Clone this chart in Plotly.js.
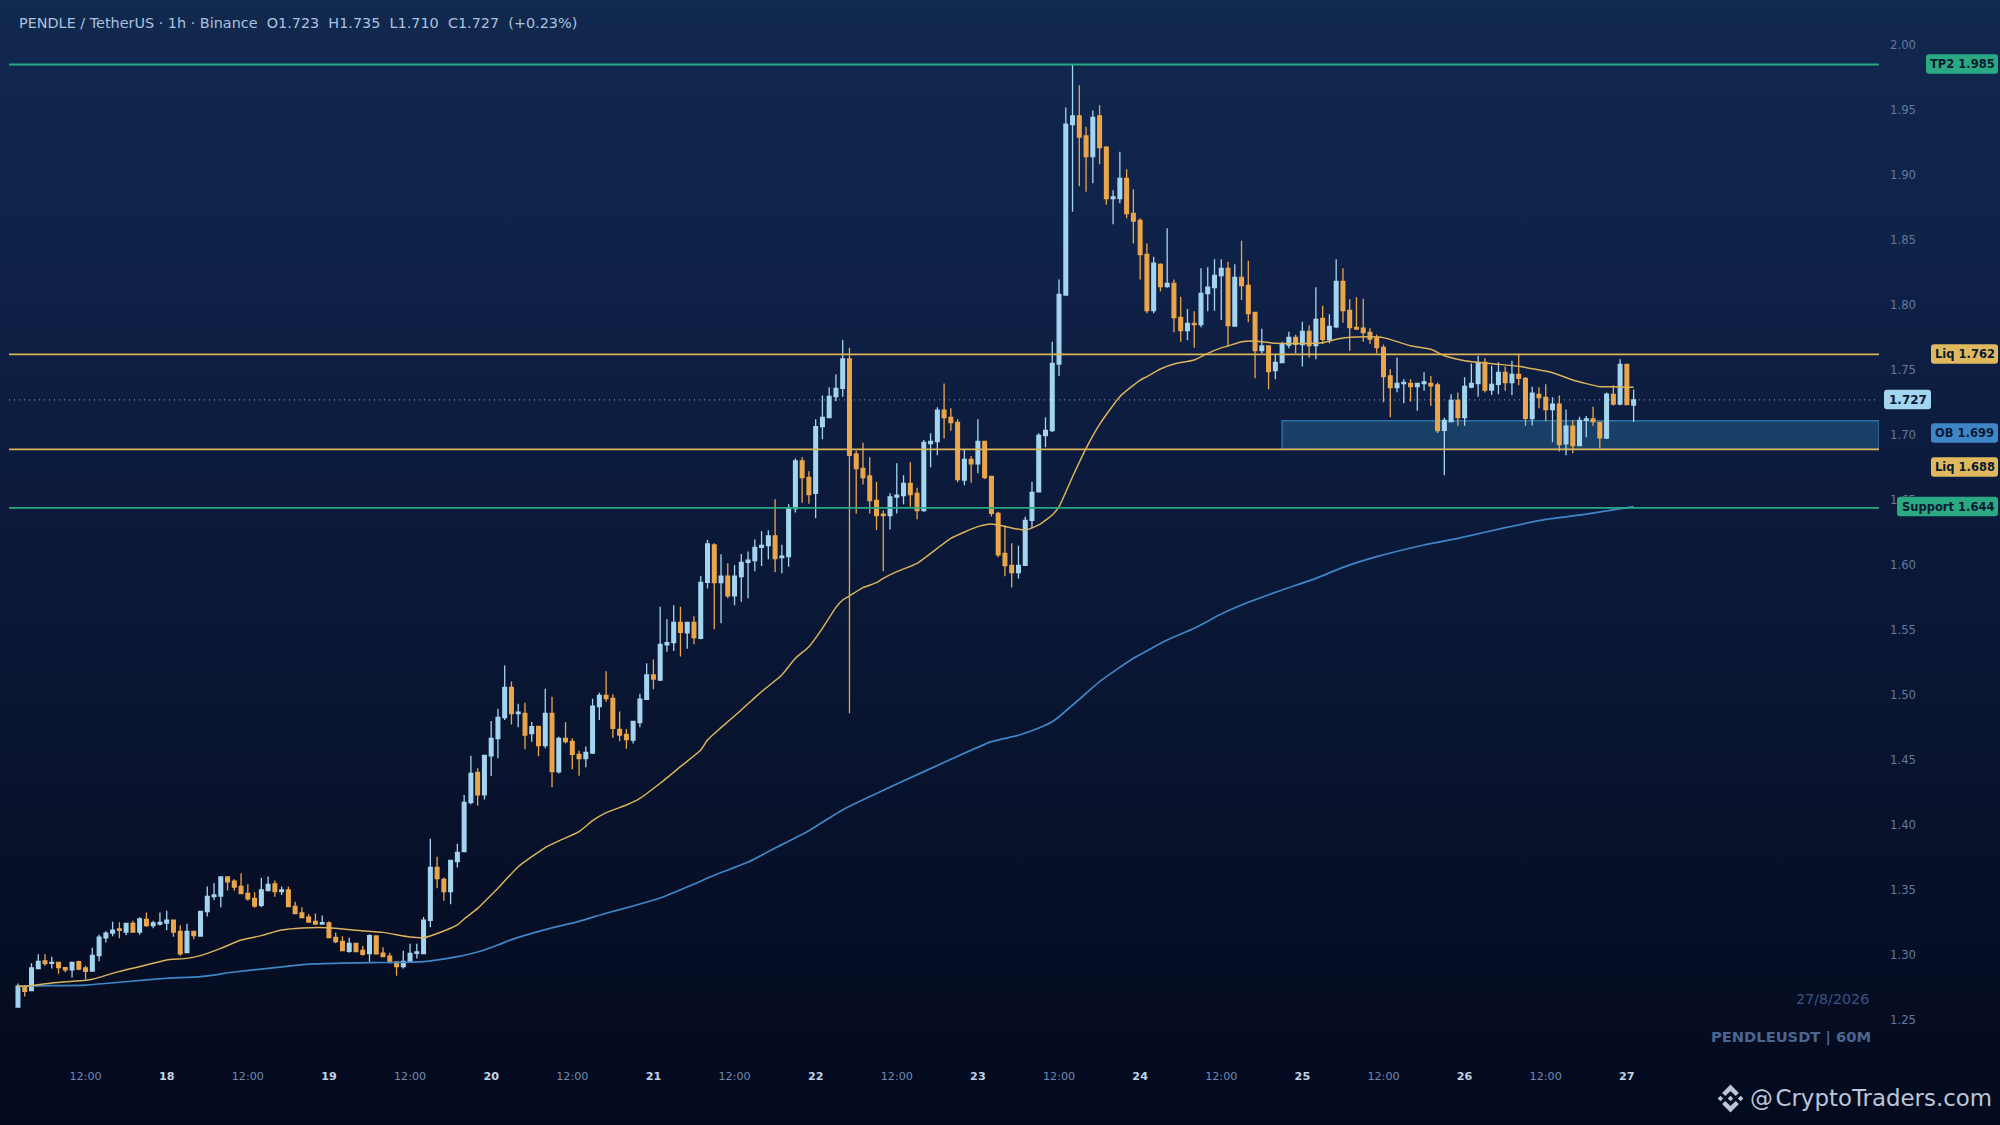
<!DOCTYPE html>
<html><head><meta charset="utf-8">
<script src="https://cdn.plot.ly/plotly-3.0.1.min.js"></script>
<style>html,body{margin:0;padding:0;width:2000px;height:1125px;overflow:hidden;background:linear-gradient(180deg,#11284f 0%,#0f2147 25%,#0a1735 55%,#071028 78%,#040a1e 100%);}
#c{width:2000px;height:1125px}</style></head><body><div id="c"></div>
<script>
const opens=[1.260,1.275,1.2726,1.2895,1.2954,1.2936,1.2944,1.2903,1.2885,1.2949,1.290,1.2877,1.2995,1.3131,1.3169,1.320,1.3177,1.3244,1.3177,1.3274,1.3226,1.3238,1.3246,1.3269,1.3182,1.3018,1.3182,1.3146,1.3333,1.3449,1.3454,1.36,1.3569,1.3528,1.3474,1.3436,1.3382,1.3495,1.3546,1.3487,1.35,1.3374,1.3323,1.3292,1.3259,1.3238,1.3246,1.3136,1.3105,1.3028,1.309,1.3036,1.301,1.3146,1.3015,1.2992,1.2946,1.291,1.2946,1.3013,1.301,1.3267,1.3674,1.3582,1.3487,1.3718,1.3795,1.4172,1.4405,1.4231,1.4531,1.4664,1.4826,1.5059,1.4856,1.4859,1.4703,1.4759,1.461,1.4859,1.4408,1.4667,1.4644,1.4544,1.451,1.4554,1.491,1.4997,1.4974,1.4736,1.4697,1.4654,1.4787,1.4967,1.5154,1.5115,1.5385,1.5403,1.5559,1.5479,1.5559,1.5436,1.5867,1.6154,1.5864,1.5915,1.5762,1.591,1.602,1.6033,1.6136,1.6149,1.6223,1.6056,1.6064,1.6433,1.68,1.6674,1.6551,1.7064,1.7133,1.7295,1.7359,1.7585,1.6854,1.6744,1.6685,1.6497,1.6392,1.638,1.6523,1.6533,1.6628,1.6551,1.6418,1.6933,1.6949,1.7192,1.7136,1.7097,1.6654,1.6813,1.6779,1.6951,1.6682,1.6397,1.609,1.5997,1.5941,1.5997,1.6344,1.6562,1.6995,1.7033,1.7546,1.8077,1.9387,1.9454,1.93,1.9141,1.9454,1.9215,1.8818,1.8818,1.8974,1.8705,1.8651,1.839,1.7956,1.8313,1.8141,1.8167,1.7905,1.7803,1.7859,1.7849,1.8087,1.8133,1.8226,1.8282,1.7838,1.8213,1.8151,1.7944,1.7649,1.7685,1.7495,1.7556,1.7692,1.7751,1.7695,1.7797,1.7687,1.7897,1.7736,1.7831,1.8182,1.7959,1.7828,1.7821,1.779,1.7746,1.7674,1.7454,1.7364,1.7395,1.7397,1.7372,1.7395,1.7397,1.7385,1.7036,1.7103,1.7267,1.7133,1.7369,1.7395,1.7559,1.7346,1.739,1.7482,1.7403,1.7467,1.7436,1.7126,1.7313,1.729,1.7195,1.7238,1.6931,1.7069,1.6918,1.7113,1.7123,1.7097,1.6977,1.7313,1.7238,1.7544,1.723];
const highs=[1.278,1.277,1.2936,1.3005,1.3005,1.2987,1.2944,1.2903,1.2944,1.2956,1.2918,1.3056,1.3156,1.3182,1.3256,1.3251,1.3244,1.3264,1.329,1.3326,1.3264,1.3326,1.3341,1.3269,1.3228,1.3241,1.3187,1.3336,1.3526,1.3551,1.36,1.36,1.3582,1.3628,1.3544,1.3482,1.3595,1.3603,1.3574,1.3526,1.3526,1.341,1.3367,1.3313,1.332,1.3303,1.3259,1.3174,1.3144,1.3133,1.309,1.3069,1.3159,1.3146,1.3059,1.3018,1.2946,1.3033,1.3087,1.3087,1.3292,1.3895,1.3756,1.3597,1.3733,1.3856,1.4231,1.4533,1.4436,1.4536,1.48,1.4895,1.5226,1.5103,1.4933,1.4941,1.4792,1.4759,1.5049,1.4987,1.4679,1.479,1.4667,1.4572,1.4603,1.4972,1.5018,1.5182,1.5005,1.4874,1.4738,1.4797,1.501,1.5244,1.5274,1.5679,1.5582,1.569,1.5679,1.5559,1.5605,1.5915,1.6192,1.6167,1.6082,1.6013,1.6,1.6085,1.6103,1.6197,1.6259,1.6267,1.6505,1.6156,1.6467,1.682,1.6828,1.6721,1.7121,1.7303,1.7367,1.7467,1.7731,1.7672,1.6879,1.6941,1.6828,1.6641,1.642,1.6551,1.6782,1.669,1.679,1.6595,1.6962,1.7013,1.7213,1.7397,1.7205,1.7121,1.6885,1.6838,1.7121,1.6951,1.6682,1.641,1.6303,1.6167,1.6149,1.6372,1.6641,1.7013,1.7136,1.7718,1.8197,1.952,1.9846,1.969,1.9372,1.9497,1.9536,1.9221,1.8882,1.9179,1.9044,1.889,1.8667,1.8474,1.8372,1.8321,1.859,1.8197,1.8064,1.7969,1.7951,1.8282,1.829,1.8351,1.8351,1.8333,1.8313,1.8495,1.8341,1.7944,1.7818,1.7685,1.7615,1.7718,1.7795,1.7772,1.7872,1.7844,1.8136,1.7995,1.7928,1.8351,1.8282,1.8044,1.8059,1.8049,1.7821,1.7774,1.7697,1.7505,1.7597,1.7428,1.7428,1.7397,1.7482,1.7454,1.7403,1.7133,1.7313,1.7326,1.7444,1.755,1.7609,1.759,1.7533,1.7559,1.7526,1.7572,1.7623,1.7446,1.7372,1.7367,1.739,1.729,1.7303,1.7197,1.7115,1.7141,1.7146,1.7218,1.7097,1.7326,1.7382,1.7582,1.7544,1.735];
const lows=[1.260,1.268,1.2726,1.2895,1.2918,1.2897,1.2856,1.2867,1.2826,1.2882,1.2813,1.2877,1.2951,1.3097,1.3144,1.3128,1.3151,1.3177,1.3156,1.3215,1.3205,1.3226,1.319,1.3141,1.2995,1.3018,1.3121,1.3146,1.3297,1.3423,1.3367,1.3497,1.3495,1.3472,1.3418,1.3364,1.3367,1.3495,1.3449,1.3462,1.3369,1.3313,1.3287,1.3249,1.3233,1.3238,1.3128,1.309,1.3028,1.3018,1.3026,1.2995,1.2949,1.3008,1.2987,1.2936,1.2841,1.2897,1.2946,1.2974,1.301,1.3213,1.3513,1.3418,1.339,1.3674,1.3795,1.4159,1.4149,1.4197,1.4377,1.4513,1.4808,1.4774,1.4751,1.4582,1.4641,1.4528,1.459,1.429,1.4397,1.4626,1.4428,1.4379,1.4444,1.4546,1.4808,1.4949,1.4672,1.4644,1.4587,1.4626,1.4751,1.4967,1.5044,1.5108,1.5333,1.5338,1.5297,1.5356,1.539,1.5428,1.582,1.5505,1.5551,1.5744,1.569,1.5718,1.5744,1.5951,1.5992,1.6044,1.5944,1.5936,1.5987,1.6403,1.6479,1.6472,1.6359,1.6967,1.7128,1.7259,1.7295,1.486,1.6397,1.662,1.6397,1.6269,1.5951,1.6274,1.6397,1.6467,1.6449,1.6351,1.641,1.6751,1.6844,1.6974,1.7033,1.6636,1.6613,1.6633,1.6705,1.6662,1.6374,1.6059,1.5913,1.5826,1.5897,1.5992,1.6282,1.6562,1.6905,1.7023,1.7454,1.8077,1.8718,1.8913,1.8872,1.8936,1.9082,1.8772,1.8621,1.8782,1.8667,1.8474,1.8197,1.7936,1.7936,1.8103,1.8133,1.779,1.7718,1.7728,1.7672,1.7828,1.7951,1.7956,1.7885,1.7685,1.7833,1.8038,1.7867,1.7436,1.7628,1.7351,1.7428,1.7556,1.7667,1.7628,1.7526,1.7597,1.7582,1.77,1.7705,1.7821,1.7864,1.7649,1.7815,1.7718,1.77,1.7628,1.7251,1.7136,1.7328,1.7244,1.7256,1.7187,1.7341,1.7223,1.7015,1.669,1.7103,1.7072,1.7072,1.7359,1.7295,1.7326,1.7308,1.7313,1.7341,1.7305,1.7382,1.7072,1.7074,1.7205,1.7105,1.6944,1.6874,1.6844,1.6859,1.6918,1.6983,1.7072,1.6897,1.6969,1.7226,1.7228,1.7228,1.71];
const closes=[1.276,1.272,1.290,1.295,1.2933,1.2944,1.2903,1.2885,1.2944,1.2892,1.2874,1.2997,1.3138,1.3169,1.3192,1.319,1.3244,1.3177,1.3277,1.3226,1.3246,1.3251,1.3269,1.3177,1.3008,1.3182,1.3149,1.3336,1.3451,1.3462,1.36,1.3562,1.3523,1.3472,1.3431,1.3377,1.35,1.3544,1.3487,1.35,1.3372,1.3318,1.3287,1.3254,1.3238,1.3249,1.3133,1.3103,1.3033,1.309,1.3026,1.3005,1.3149,1.3008,1.2987,1.2941,1.291,1.2951,1.3013,1.3023,1.3269,1.3674,1.3587,1.3487,1.3728,1.379,1.4174,1.4397,1.4231,1.4536,1.4667,1.4828,1.5059,1.4856,1.4869,1.4692,1.4756,1.461,1.4859,1.441,1.4667,1.4641,1.4544,1.451,1.4559,1.4915,1.4997,1.4972,1.4744,1.4692,1.4656,1.4797,1.4969,1.5154,1.5123,1.539,1.5403,1.5559,1.5482,1.5559,1.5441,1.5867,1.6162,1.5864,1.5915,1.5762,1.5915,1.602,1.6038,1.6136,1.6151,1.6223,1.6049,1.6069,1.6441,1.68,1.6672,1.6541,1.7064,1.7136,1.7297,1.7359,1.7585,1.6844,1.6741,1.6672,1.6495,1.638,1.638,1.6523,1.6538,1.6628,1.6541,1.6418,1.6944,1.6951,1.7192,1.7133,1.7095,1.6656,1.6813,1.6779,1.6951,1.6672,1.6397,1.6079,1.5995,1.5941,1.5997,1.6344,1.6559,1.6997,1.7036,1.7551,1.8082,1.9392,1.9454,1.9292,1.9141,1.9444,1.921,1.8818,1.8831,1.8974,1.8703,1.8646,1.8387,1.7956,1.8321,1.8141,1.8167,1.7903,1.7803,1.7859,1.7849,1.809,1.8138,1.8228,1.8282,1.7841,1.8213,1.8149,1.7933,1.7649,1.7685,1.7487,1.7559,1.7695,1.7751,1.7697,1.7797,1.7687,1.789,1.7736,1.7836,1.8182,1.7956,1.7826,1.7815,1.7787,1.7738,1.7672,1.7449,1.7364,1.7397,1.7405,1.7372,1.7397,1.7408,1.7379,1.7033,1.7113,1.7267,1.7133,1.7374,1.7397,1.7559,1.7346,1.739,1.7482,1.7403,1.7467,1.7436,1.7128,1.7321,1.7287,1.7195,1.7238,1.6926,1.7069,1.6918,1.7113,1.7123,1.7103,1.6979,1.7315,1.7238,1.7544,1.7233,1.727];
const goldIdx=[0,2,5,10,11,15,20,22,25,27,30,33,36,39,42,46,50,54,58,60,63,65,66,68,70,71,74,78,80,83,85,87,90,92,95,98,101,102,104,107,110,113,115,117,119,121,122,123,125,127,128,130,133,138,142,144,147,149,151,153,154,156,158,160,163,166,167,169,171,174,176,178,179,181,183,186,193,195,197,200,202,206,209,211,214,218,222,227,230,234,236,239];
const goldVal=[1.2760,1.2764,1.2785,1.2805,1.2813,1.2874,1.2936,1.2962,1.2974,1.2995,1.3051,1.3115,1.3149,1.3192,1.3208,1.3210,1.3190,1.3174,1.3138,1.3133,1.3185,1.3231,1.3277,1.3359,1.3462,1.3513,1.3679,1.3826,1.3877,1.3949,1.4033,1.4095,1.4154,1.4205,1.4321,1.4449,1.4577,1.4654,1.4749,1.4885,1.5026,1.5154,1.5282,1.5372,1.5513,1.5674,1.5731,1.5762,1.5826,1.5864,1.5897,1.5949,1.6013,1.6205,1.6295,1.6315,1.6285,1.6269,1.6308,1.6385,1.6449,1.6679,1.6897,1.7082,1.7295,1.7423,1.7449,1.7508,1.7546,1.7577,1.7628,1.7670,1.7685,1.7718,1.7723,1.7705,1.7710,1.7736,1.7751,1.7756,1.7749,1.7687,1.7659,1.7610,1.7572,1.7549,1.7528,1.7479,1.7423,1.7372,1.7372,1.7367];
const blueIdx=[0,2,10,17,22,27,32,37,40,44,52,57,60,65,68,71,73,78,83,87,91,95,100,103,108,113,117,122,125,130,138,144,148,151,153,154,157,160,165,170,174,178,182,187,192,196,201,208,213,220,226,232,239];
const blueVal=[1.2756,1.2762,1.2769,1.2800,1.2821,1.2833,1.2869,1.2897,1.2915,1.2931,1.2941,1.2944,1.2949,1.2987,1.3023,1.3077,1.3118,1.3195,1.3259,1.3321,1.3377,1.3438,1.3546,1.3613,1.3715,1.3849,1.3956,1.4118,1.4195,1.4315,1.4505,1.4641,1.4690,1.4746,1.4795,1.4833,1.4967,1.5103,1.5282,1.5423,1.5513,1.5623,1.5713,1.5808,1.5897,1.5982,1.6064,1.6154,1.6205,1.6287,1.6351,1.6392,1.6449];
const priceTicks=[1.25,1.30,1.35,1.40,1.45,1.50,1.55,1.60,1.65,1.70,1.75,1.80,1.85,1.90,1.95,2.00];
const dayLabels=["18","19","20","21","22","23","24","25","26","27"];
const levelTP2=1.985, levelLiqHigh=1.762, levelLiqLow=1.689, levelSupport=1.644, lastPrice=1.727;
const obTop=1.711, obBottom=1.689, obStartIndex=187;

const W=2000,H=1125;
const fx=p=>p/W, fy=p=>1-p/H;
const START=Date.UTC(2026,7,17,2), HOUR=3600000, D18=Date.UTC(2026,7,18);
const times=opens.map((_,i)=>START+i*HOUR);
const PXH=6.76, X18=166.7, PL=9, PR=1879;
const tAt=px=>D18+(px-X18)/PXH*HOUR;

const tickVals=[],tickText=[];
dayLabels.forEach((d,k)=>{
  const day=D18+k*24*HOUR;
  tickVals.push(day-12*HOUR);tickText.push('<span style="color:#6f8ab0">12:00</span>');
  tickVals.push(day);tickText.push('<span style="color:#c3d3e6;font-weight:bold"><b>'+d+'</b></span>');
});

const UP='#a3d5f0',DOWN='#eba54b',GOLD='#dcb35a',GREEN='#2aa983',BLUE='#3f86c8',DARK='#0b1a33';
const traces=[
 {type:'candlestick',x:times,open:opens,high:highs,low:lows,close:closes,whiskerwidth:0,
  increasing:{line:{color:UP,width:1.3},fillcolor:UP},decreasing:{line:{color:DOWN,width:1.3},fillcolor:DOWN},hoverinfo:'skip',showlegend:false},
 {type:'scatter',mode:'lines',x:blueIdx.map(i=>times[i]),y:blueVal,line:{color:BLUE,width:1.7,shape:'spline',smoothing:0.5},hoverinfo:'skip',showlegend:false},
 {type:'scatter',mode:'lines',x:goldIdx.map(i=>times[i]),y:goldVal,line:{color:GOLD,width:1.5,shape:'spline',smoothing:0.5},hoverinfo:'skip',showlegend:false}
];
const hline=(y,color,extra)=>({type:'line',xref:'x domain',yref:'y',x0:0,x1:1,y0:y,y1:y,layer:'above',line:Object.assign({color:color,width:1.8},extra||{})});
function rr(x0,y0,x1,y1,color){const r=3;const P=(x,y)=>fx(x)+','+fy(y);
 return {type:'path',xref:'paper',yref:'paper',layer:'above',fillcolor:color,line:{width:0},
  path:'M'+P(x0+r,y0)+' L'+P(x1-r,y0)+' Q'+P(x1,y0)+' '+P(x1,y0+r)+' L'+P(x1,y1-r)+' Q'+P(x1,y1)+' '+P(x1-r,y1)+' L'+P(x0+r,y1)+' Q'+P(x0,y1)+' '+P(x0,y1-r)+' L'+P(x0,y0+r)+' Q'+P(x0,y0)+' '+P(x0+r,y0)+' Z'};}
function logo(cx,cy,s,color){
 const polys=[[[0,-.2],[.2,0],[0,.2],[-.2,0]],[[-.72,-.2],[-.52,0],[-.72,.2],[-.92,0]],[[.72,-.2],[.92,0],[.72,.2],[.52,0]],
  [[0,-1],[.6,-.4],[.37,-.17],[0,-.54],[-.37,-.17],[-.6,-.4]],[[0,1],[.6,.4],[.37,.17],[0,.54],[-.37,.17],[-.6,.4]]];
 return {type:'path',xref:'paper',yref:'paper',layer:'above',fillcolor:color,line:{width:0},
  path:polys.map(p=>'M'+p.map(q=>fx(cx+q[0]*s)+','+fy(cy+q[1]*s)).join(' L')+' Z').join(' ')};
}
const labels=[
 {t:'TP2 1.985',x0:1926,x1:1998,cy:64,c:GREEN},
 {t:'Liq 1.762',x0:1931,x1:1998,cy:354,c:'#e0b95e'},
 {t:'OB 1.699',x0:1931,x1:1998,cy:433,c:BLUE},
 {t:'Liq 1.688',x0:1931,x1:1998,cy:467,c:'#e0b95e'},
 {t:'Support 1.644',x0:1897,x1:1998,cy:506.5,c:GREEN},
 {t:'1.727',x0:1884,x1:1931,cy:399.5,c:'#a3d5f0',fs:12}
];
const shapes=[
 {type:'rect',xref:'x',yref:'y',x0:times[obStartIndex],x1:tAt(PR),y0:obBottom,y1:obTop,layer:'below',fillcolor:'rgba(44,120,165,0.38)',line:{color:'#2f6fa3',width:1.5}},
 hline(levelTP2,GREEN),hline(levelLiqHigh,GOLD),hline(levelLiqLow,GOLD),hline(levelSupport,GREEN),
 hline(lastPrice,'rgba(170,215,240,0.75)',{width:1,dash:'1px,4px'}),
 logo(1730.5,1098.5,14,'#b9c7d9')
].concat(labels.map(l=>rr(l.x0,l.cy-9.7,l.x1,l.cy+9.7,l.c)));
const ann=(t,x,y,anchor,size,color,bold)=>({xref:'paper',yref:'paper',x:fx(x),y:fy(y),xanchor:anchor,yanchor:'middle',showarrow:false,align:anchor,
  text:bold?'<b>'+t+'</b>':t,font:{family:'DejaVu Sans',size:size,color:color},borderpad:0});
const annotations=[
 ann('PENDLE / TetherUS · 1h · Binance\u00a0\u00a0O1.723\u00a0\u00a0H1.735\u00a0\u00a0L1.710\u00a0\u00a0C1.727\u00a0\u00a0(+0.23%)',18,23,'left',14.4,'#a9c3de',false),
 ann('27/8/2026',1870,998.5,'right',14.3,'#3b5480',false),
 ann('PENDLEUSDT | 60M',1871.5,1037,'right',14.7,'#4a6690',true),
 ann('@<span style="font-size:8px"> </span>CryptoTraders.com',1749,1098,'left',22.9,'#b9c7d9',false)
].concat(labels.map(l=>ann(l.t,(l.x0+l.x1)/2,l.cy,'center',l.fs||11.5,DARK,true)));

Plotly.newPlot('c',traces,{
 width:W,height:H,margin:{l:0,r:0,t:0,b:0,pad:0},paper_bgcolor:'rgba(0,0,0,0)',plot_bgcolor:'rgba(0,0,0,0)',showlegend:false,boxgap:0.22,
 xaxis:{type:'date',domain:[PL/W,PR/W],range:[tAt(PL),tAt(PR)],autorange:false,rangeslider:{visible:false},showgrid:false,zeroline:false,showline:false,ticks:'',
  tickmode:'array',tickvals:tickVals,ticktext:tickText,tickangle:0,ticklabelstandoff:18,tickfont:{family:'DejaVu Sans',size:11.2,color:'#6f8ab0'}},
 yaxis:{domain:[75/H,1095/H],range:[1.25-30/1300,1.25+990/1300],autorange:false,side:'right',showgrid:false,zeroline:false,showline:false,ticks:'',
  tickmode:'array',tickvals:priceTicks,ticktext:priceTicks.map(v=>v.toFixed(2)),ticklabelstandoff:10,tickfont:{family:'DejaVu Sans',size:11.7,color:'#5f7a9f'}},
 shapes:shapes,annotations:annotations,hovermode:false,dragmode:false
},{displayModeBar:false,staticPlot:true});
</script></body></html>
